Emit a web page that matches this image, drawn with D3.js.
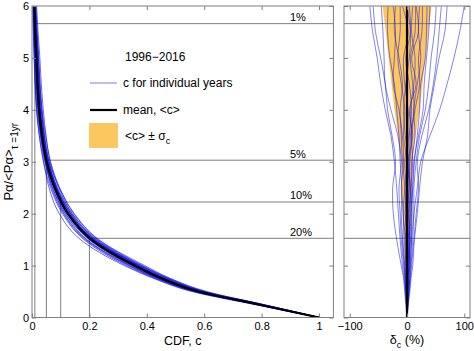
<!DOCTYPE html>
<html>
<head>
<meta charset="utf-8">
<script src="https://cdn.jsdelivr.net/npm/d3@7"></script>
<style>
body { margin: 0; background: #fff; }
text { font-family: "Liberation Sans", Arial, sans-serif; }
</style>
</head>
<body>
<div id="container"></div>
<script>
const width = 474;
const height = 351;

const levels = [0, 0.25, 0.5, 0.75, 1, 1.5, 2, 2.5, 3, 3.5, 4, 4.5, 5, 5.5, 6];
// mean CDF <c> at each level
const meanC = [1.0, 0.79, 0.58, 0.452, 0.357, 0.206, 0.125, 0.079, 0.051, 0.035, 0.025, 0.019, 0.015, 0.011, 0.008];
// sigma_c in % of <c>
const sigmaPct = [0, 1.5, 3, 4, 5, 6, 7.5, 9, 10, 15, 22, 27, 32, 37, 43];
// delta_c (%) of each year 1996..2016 at each level
const deltaYears = [
  [0, -1, -3, -5, -8, -12, -15, -18, -22, -28, -38, -46, -52, -60, -65],
  [0, -2, -4, -6, -10, -18, -24, -25, -20, -26, -34, -38, -46, -55, -59],
  [0, -1, -2, -4, -6, -10, -12, -14, -10, -16, -28, -38, -40, -42, -45],
  [0, 0, -2, -3, -5, -8, -10, -9, -12, -14, -18, -22, -30, -34, -33],
  [0, -1, -2, -3, -4, -7, -6, -10, -6, -8, -14, -24, -22, -20, -24],
  [0, 0, -1, -2, -3, -2, -7, -4, -8, -10, -12, -8, -14, -22, -20],
  [0, 0, -1, -1, -2, -4, -2, -3, 0, -6, -4, -10, -16, -12, -12],
  [0, 0, 0, -1, -1, 1, -3, -1, -4, 3, 2, -4, -6, 2, -8],
  [0, 0, 0, 0, 0, -2, 2, 1, 3, -3, -6, -2, 4, 6, 0],
  [0, 0, 1, 1, 2, 3, 0, 4, 1, 4, 8, 4, -2, 6, 4],
  [0, 1, 1, 2, 1, 4, 2, 3, 5, 8, 6, 12, 14, 8, 10],
  [0, 0, 1, 2, 3, 2, 6, 5, 4, 6, 12, 10, 6, 14, 15],
  [0, 1, 2, 1, 4, 5, 4, 7, 8, 14, 12, 18, 24, 20, 22],
  [0, 1, 2, 3, 3, 6, 9, 7, 10, 8, 14, 22, 20, 26, 27],
  [0, 1, 2, 3, 5, 4, 8, 10, 13, 18, 22, 24, 32, 34, 35],
  [0, 1, 3, 4, 5, 8, 7, 10, 12, 20, 28, 30, 34, 38, 40],
  [0, 2, 3, 5, 7, 10, 12, 12, 16, 22, 32, 38, 42, 48, 51],
  [0, 2, 4, 6, 8, 12, 16, 20, 18, 26, 38, 46, 52, 56, 60],
  [0, 2, 5, 7, 10, 13, 18, 22, 27, 36, 40, 48, 56, 66, 70],
  [0, 1, 3, 5, 6, 8, 12, 18, 24, 40, 57, 70, 82, 92, 100],
  [0, 1, 1, 2, 3, 5, 3, 6, 2, 10, 4, 16, 8, 20, 16]
];
// exceedance markers
const pctLabels = ["1%", "5%", "10%", "20%"];
const pctC = [0.01, 0.05, 0.1, 0.2];
const pctP = [5.66, 3.03, 2.225, 1.525];

const xTicksLeft = [0, 0.2, 0.4, 0.6, 0.8, 1];
const xTicksRight = [-100, 0, 100];
const yTicks = [0, 1, 2, 3, 4, 5, 6];

const gray = "#7f7f7f";
const blue = "#1414dc";

const viz = d3.select("#container").append("svg").attr("width", width).attr("height", height);

const xLeft = d3.scaleLinear().domain([0, 1.05]).range([32, 333.4]);
const xRight = d3.scaleLinear().domain([-110, 110]).range([344, 470]);
const yScale = d3.scaleLinear().domain([0, 6]).range([317.5, 6]);

const defs = viz.append("defs");
defs.append("clipPath").attr("id", "clipL").append("rect")
  .attr("x", xLeft(0)).attr("y", yScale(6)).attr("width", xLeft(1.05) - xLeft(0)).attr("height", yScale(0) - yScale(6));
defs.append("clipPath").attr("id", "clipR").append("rect")
  .attr("x", xRight(-110)).attr("y", yScale(6)).attr("width", xRight(110) - xRight(-110)).attr("height", yScale(0) - yScale(6));

// ---------- left panel ----------
const left = viz.append("g");
const leftPlot = left.append("g").attr("clip-path", "url(#clipL)");

pctC.forEach((c, i) => {
  leftPlot.append("line").attr("x1", xLeft(c)).attr("x2", xLeft(c))
    .attr("y1", yScale(0)).attr("y2", yScale(pctP[i]))
    .attr("stroke", gray).attr("stroke-width", 1);
  leftPlot.append("line").attr("x1", xLeft(c)).attr("x2", xLeft(1.05))
    .attr("y1", yScale(pctP[i])).attr("y2", yScale(pctP[i]))
    .attr("stroke", gray).attr("stroke-width", 1);
});

const lineLeft = d3.line().x(d => xLeft(d[0])).y(d => yScale(d[1])).curve(d3.curveMonotoneY);

deltaYears.forEach(dy => {
  let pts = levels.map((p, i) => [meanC[i] * (1 + dy[i] / 100), p]);
  leftPlot.append("path").attr("d", lineLeft(pts)).attr("fill", "none")
    .attr("stroke", blue).attr("stroke-width", 0.75).attr("stroke-opacity", 0.85);
});
leftPlot.append("path").attr("d", lineLeft(levels.map((p, i) => [meanC[i], p])))
  .attr("fill", "none").attr("stroke", "black").attr("stroke-width", 2.2);

pctLabels.forEach((t, i) => {
  left.append("text").attr("x", 290).attr("y", yScale(pctP[i]) - 2.5)
    .attr("font-size", 11).text(t);
});

// legend
left.append("text").attr("x", 125).attr("y", 61).attr("font-size", 12).text("1996\u22122016");
left.append("line").attr("x1", 90).attr("x2", 117).attr("y1", 83).attr("y2", 83)
  .attr("stroke", blue).attr("stroke-width", 0.8).attr("stroke-opacity", 0.7);
left.append("text").attr("x", 123).attr("y", 87).attr("font-size", 12).text("c for individual years");
left.append("line").attr("x1", 90).attr("x2", 117).attr("y1", 110).attr("y2", 110)
  .attr("stroke", "black").attr("stroke-width", 2.2);
left.append("text").attr("x", 123).attr("y", 114).attr("font-size", 12).text("mean, <c>");
left.append("rect").attr("x", 89).attr("y", 123).attr("width", 29).attr("height", 25).attr("fill", "#fdc760");
let sigText = left.append("text").attr("x", 125).attr("y", 140).attr("font-size", 12);
sigText.append("tspan").text("<c> \u00b1 \u03c3");
sigText.append("tspan").attr("dy", 4).attr("font-size", 9).text("c");

// ---------- right panel ----------
const right = viz.append("g");
const rightPlot = right.append("g").attr("clip-path", "url(#clipR)");

const band = d3.area().y(d => yScale(d[0])).x0(d => xRight(-d[1])).x1(d => xRight(d[1])).curve(d3.curveMonotoneY);
rightPlot.append("path").attr("d", band(levels.map((p, i) => [p, sigmaPct[i]]))).attr("fill", "#fdc760");

pctP.forEach(p => {
  rightPlot.append("line").attr("x1", xRight(-110)).attr("x2", xRight(110))
    .attr("y1", yScale(p)).attr("y2", yScale(p)).attr("stroke", gray).attr("stroke-width", 1);
});

const lineRight = d3.line().x(d => xRight(d[0])).y(d => yScale(d[1])).curve(d3.curveCatmullRom);
deltaYears.forEach(dy => {
  rightPlot.append("path").attr("d", lineRight(levels.map((p, i) => [dy[i], p]))).attr("fill", "none")
    .attr("stroke", blue).attr("stroke-width", 0.75).attr("stroke-opacity", 0.7);
});
rightPlot.append("path").attr("d", lineRight(levels.map(p => [0, p])))
  .attr("fill", "none").attr("stroke", "black").attr("stroke-width", 2.2);

// ---------- axes & frames ----------
function frame(g, x0, x1) {
  g.append("rect").attr("x", x0).attr("y", yScale(6)).attr("width", x1 - x0).attr("height", yScale(0) - yScale(6))
    .attr("fill", "none").attr("stroke", gray).attr("stroke-width", 1);
}
function styleAxis(a) {
  a.select(".domain").remove();
  a.selectAll("line").attr("stroke", gray);
  a.selectAll("text").attr("fill", "black").attr("font-size", 11)
    .attr("font-family", "'Liberation Sans', Arial, sans-serif");
}

let ax;
ax = left.append("g").attr("transform", `translate(0,${yScale(0)})`)
  .call(d3.axisBottom(xLeft).tickValues(xTicksLeft).tickFormat(d => d).tickSize(-4).tickPadding(5));
styleAxis(ax);
ax = left.append("g").attr("transform", `translate(0,${yScale(6)})`)
  .call(d3.axisTop(xLeft).tickValues(xTicksLeft).tickFormat("").tickSize(-4));
styleAxis(ax);
ax = left.append("g").attr("transform", `translate(${xLeft(0)},0)`)
  .call(d3.axisLeft(yScale).tickValues(yTicks).tickFormat(d => d).tickSize(-4).tickPadding(3));
styleAxis(ax);
ax = left.append("g").attr("transform", `translate(${xLeft(1.05)},0)`)
  .call(d3.axisRight(yScale).tickValues(yTicks).tickFormat("").tickSize(-4));
styleAxis(ax);
frame(left, xLeft(0), xLeft(1.05));

ax = right.append("g").attr("transform", `translate(0,${yScale(0)})`)
  .call(d3.axisBottom(xRight).tickValues(xTicksRight).tickFormat(d3.format("d")).tickSize(-4).tickPadding(5));
styleAxis(ax);
ax = right.append("g").attr("transform", `translate(0,${yScale(6)})`)
  .call(d3.axisTop(xRight).tickValues(xTicksRight).tickFormat("").tickSize(-4));
styleAxis(ax);
ax = right.append("g").attr("transform", `translate(${xRight(-110)},0)`)
  .call(d3.axisLeft(yScale).tickValues(yTicks).tickFormat("").tickSize(-4));
styleAxis(ax);
ax = right.append("g").attr("transform", `translate(${xRight(110)},0)`)
  .call(d3.axisRight(yScale).tickValues(yTicks).tickFormat("").tickSize(-4));
styleAxis(ax);
frame(right, xRight(-110), xRight(110));

// axis titles
viz.append("text").attr("x", (xLeft(0) + xLeft(1.05)) / 2).attr("y", 345)
  .attr("text-anchor", "middle").attr("font-size", 12.5).text("CDF, c");

let dText = viz.append("text").attr("x", xRight(0)).attr("y", 344)
  .attr("text-anchor", "middle").attr("font-size", 12.5);
dText.append("tspan").text("\u03b4");
dText.append("tspan").attr("dy", 4).attr("font-size", 9).text("c");
dText.append("tspan").attr("dy", -4).text(" (%)");

let yText = viz.append("text").attr("transform", `translate(13,${(yScale(0) + yScale(6)) / 2}) rotate(-90)`)
  .attr("text-anchor", "middle").attr("font-size", 13);
yText.append("tspan").text("P\u03b1/<P\u03b1>");
yText.append("tspan").attr("dy", 5).attr("font-size", 10).text("\u03c4 =1yr");
</script>
</body>
</html>
